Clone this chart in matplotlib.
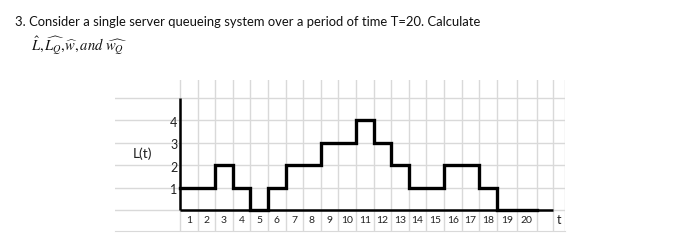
import numpy as np
import matplotlib
matplotlib.use('Agg')
import matplotlib.pyplot as plt

# Queue length L(t): value holds from each change time until the next one
change_times = [0, 2, 3, 4, 5, 6, 8, 10, 11, 12, 13, 15, 17, 18, 20]
levels = [1, 2, 1, 0, 1, 2, 3, 4, 3, 2, 1, 2, 1, 0, 0]
x_labels = list(range(1, 21))
y_labels = [1, 2, 3, 4]
y_axis_top = 5
x_axis_end = 21

title = "3. Consider a single server queueing system over a period of time T=20. Calculate"
subtitle = r"$\hat{L}{,}\,\widehat{L_Q}{,}\widehat{w}{,}\,and\ \widehat{w_Q}$"

plt.rcParams['font.family'] = ['Lato', 'DejaVu Sans']
plt.rcParams['mathtext.fontset'] = 'stix'

# spreadsheet-like column widths (px), last columns are wider
col_w = np.array([17.6] * 18 + [20.0, 20.0, 16.6, 11.7])
edges_t = np.arange(len(col_w) + 1, dtype=float)
edges_u = np.concatenate([[0.0], np.cumsum(col_w)])


def fwd(t):
    t = np.asarray(t, dtype=float)
    return np.where(t < 0, t * col_w[0],
                    np.where(t > edges_t[-1], edges_u[-1] + (t - edges_t[-1]) * col_w[-1],
                             np.interp(t, edges_t, edges_u)))


def inv(u):
    u = np.asarray(u, dtype=float)
    return np.where(u < 0, u / col_w[0],
                    np.where(u > edges_u[-1], edges_t[-1] + (u - edges_u[-1]) / col_w[-1],
                             np.interp(u, edges_u, edges_t)))


fig = plt.figure(figsize=(7, 2.46), dpi=100)
W, H = 700, 246
ax = fig.add_axes([115 / W, (H - 231) / H, 450 / W, (231 - 80) / H])
ax.set_xscale('function', functions=(fwd, inv))
ax.set_xlim(-65 / col_w[0], edges_t[-1])
ax.set_ylim(-(231 - 210.3) / 22.5, (210.3 - 80) / 22.5)

grid_c = '#d9d9d9'
ax.set_xticks(edges_t)
ax.set_yticks(range(0, y_axis_top + 1))
ax.grid(True, color=grid_c, lw=1)
ax.set_axisbelow(True)
ax.tick_params(length=0, labelbottom=False, labelleft=False)
for s in ['top', 'left', 'right']:
    ax.spines[s].set_visible(False)
ax.spines['bottom'].set_color(grid_c)

# axes drawn in black
ax.vlines(0, 0, y_axis_top, color='black', lw=1.8)
ax.hlines(0, 0, x_axis_end, color='black', lw=1.8)

ax.step(change_times, levels, where='post', color='black', lw=2.4,
        solid_joinstyle='miter')

for k in x_labels:
    ax.text(k - 0.5, -0.45, str(k), ha='center', va='center', fontsize=7.5,
            color='#222222')
ax.text(x_axis_end + 0.5, -0.45, 't', ha='center', va='center', fontsize=9,
        color='#222222')
for v in y_labels:
    ax.text(-0.15, v - 0.1, str(v), ha='right', va='center', fontsize=9,
            color='#222222')
ax.text(-2.12, 2.53, 'L(t)', ha='center', va='center', fontsize=10,
        color='#222222')

fig.text(15 / W, 1 - 22 / H, title, ha='left', va='center', fontsize=9.4,
         color='#111111')
fig.text(31 / W, 1 - 46 / H, subtitle, ha='left', va='center', fontsize=10.5,
         color='#111111')

fig.savefig('out.png', dpi=100)
